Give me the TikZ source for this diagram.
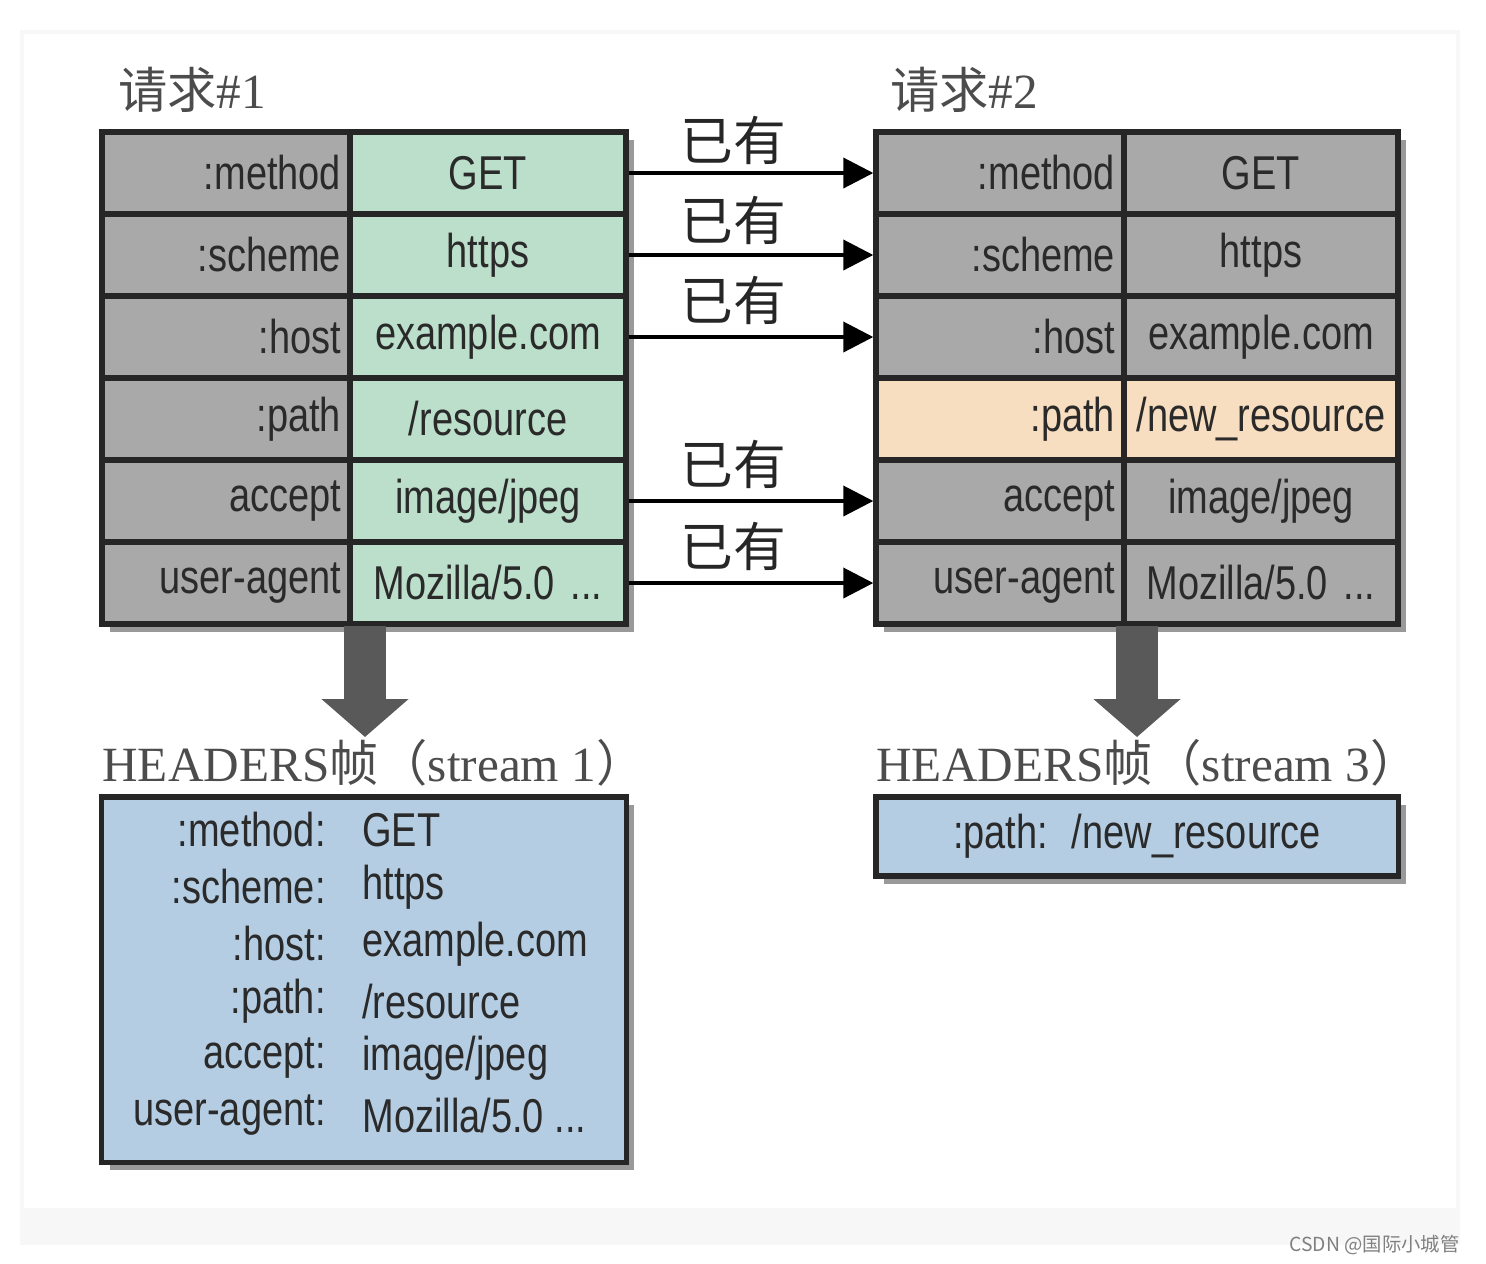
\documentclass[tikz,border=0pt]{standalone}
\usepackage{fontspec}
\setmainfont{Liberation Sans}[FakeStretch=0.8]
\newfontfamily\cjk{Noto Sans CJK SC}
\newfontfamily\serifx{Liberation Serif}
\usetikzlibrary{arrows.meta}
\definecolor{keyg}{HTML}{A9A9A9}
\definecolor{valg}{HTML}{BCDFCB}
\definecolor{peach}{HTML}{F8DEC0}
\definecolor{blu}{HTML}{B5CDE3}
\definecolor{txt}{HTML}{2A2A2A}
\tikzset{
 cell/.style={draw=black!85,line width=1.5pt,minimum height=0.82cm,inner sep=0pt,font=\fontsize{13.5}{15}\selectfont,text=txt},
 keyc/.style={cell,fill=keyg,minimum width=2.48cm,align=right,text width=2.3cm},
 valc/.style={cell,fill=valg,minimum width=2.76cm,text width=2.7cm,align=center},
 rval/.style={cell,fill=keyg,minimum width=2.74cm,text width=2.7cm,align=center},
 lbl/.style={font=\cjk\fontsize{15}{17}\selectfont,text=black!85},
 ttl/.style={font=\fontsize{14}{16}\selectfont,text=black!70},
 btx/.style={font=\fontsize{13.5}{15}\selectfont,text=txt},
 conn/.style={line width=1.1pt,-{Triangle[length=0.3cm,width=0.3cm]}},
 big/.style={line width=0.42cm,draw=black!65,-{Triangle[length=0.38cm,width=0.85cm]}},
 shadow/.style={fill=black!40}
}
\begin{document}
\begin{tikzpicture}[x=0.01cm,y=-0.01cm]
\useasboundingbox (0,0) rectangle (1486,1263);
\fill[white] (0,0) rectangle (1486,1263);
\fill[black!3] (20,30) rectangle (1460,1245);
\fill[white] (24,34) rectangle (1456,1208);
% shadows
\fill[shadow] (110,140) rectangle (634,632);
\fill[shadow] (884,140) rectangle (1406,632);
\fill[shadow] (110,805) rectangle (634,1170);
\fill[shadow] (884,805) rectangle (1406,884);
\node[ttl,anchor=west] (t1) at (106,90) {{\cjk 请求}\serifx\#1};
\node[ttl,anchor=west] (t2) at (878,90) {{\cjk 请求}\serifx\#2};
\foreach \k/\v [count=\i] in {{:method}/GET,{:scheme}/https,{:host}/example.com,{:path}/{/resource},accept/{image/jpeg},{user-agent}/{Mozilla/5.0 ...}}{
  \pgfmathsetmacro\yy{132+82*\i-41}
  \node[keyc] (lk\i) at (226,\yy) {\k};
  \node[valc] (lv\i) at (488,\yy) {\v};
  \ifnum\i=4
    \node[keyc,fill=peach] (rk\i) at (1000,\yy) {\k};
    \node[rval,fill=peach] (rv\i) at (1261,\yy) {/new\_resource};
  \else
    \node[keyc] (rk\i) at (1000,\yy) {\k};
    \node[rval] (rv\i) at (1261,\yy) {\v};
  \fi
}
\foreach \i/\ly in {1/140,2/220,3/300,5/464,6/546}{
  \draw[conn] (lv\i.east) -- (rk\i.west);
  \node[lbl] (h\i) at (733,\ly) {已有};
}
\coordinate (d1s) at (365,626); \coordinate (d1e) at (365,737);
\coordinate (d2s) at (1137,626); \coordinate (d2e) at (1137,737);
\draw[big] (d1s) -- (d1e);
\draw[big] (d2s) -- (d2e);
\node[ttl,anchor=west] (f1) at (90,763) {\serifx HEADERS{\cjk 帧（}stream 1{\cjk ）}};
\node[ttl,anchor=west] (f2) at (864,763) {\serifx HEADERS{\cjk 帧（}stream 3{\cjk ）}};
\node[draw=black!85,line width=1.5pt,fill=blu,minimum width=5.24cm,minimum height=3.65cm,inner sep=0pt] (b1) at (364,979.5) {};
\foreach \k/\v [count=\i] in {{:method:}/GET,{:scheme:}/https,{:host:}/example.com,{:path:}/{/resource},{accept:}/{image/jpeg},{user-agent:}/{Mozilla/5.0 ...}}{
  \pgfmathsetmacro\yy{830+57*(\i-1)}
  \node[anchor=east,btx] (bk\i) at (338,\yy) {\k};
  \node[anchor=west,btx] (bv\i) at (350,\yy) {\v};
}
\node[draw=black!85,line width=1.5pt,fill=blu,minimum width=5.22cm,minimum height=0.79cm,inner sep=0pt,btx] (b2) at (1137,836.5) {:path:\enspace/new\_resource};
\node[anchor=east,font=\cjk\fontsize{5.5}{6}\selectfont,text=black!50] (wm) at (1472,1245) {CSDN @国际小城管};
\end{tikzpicture}
\end{document}
